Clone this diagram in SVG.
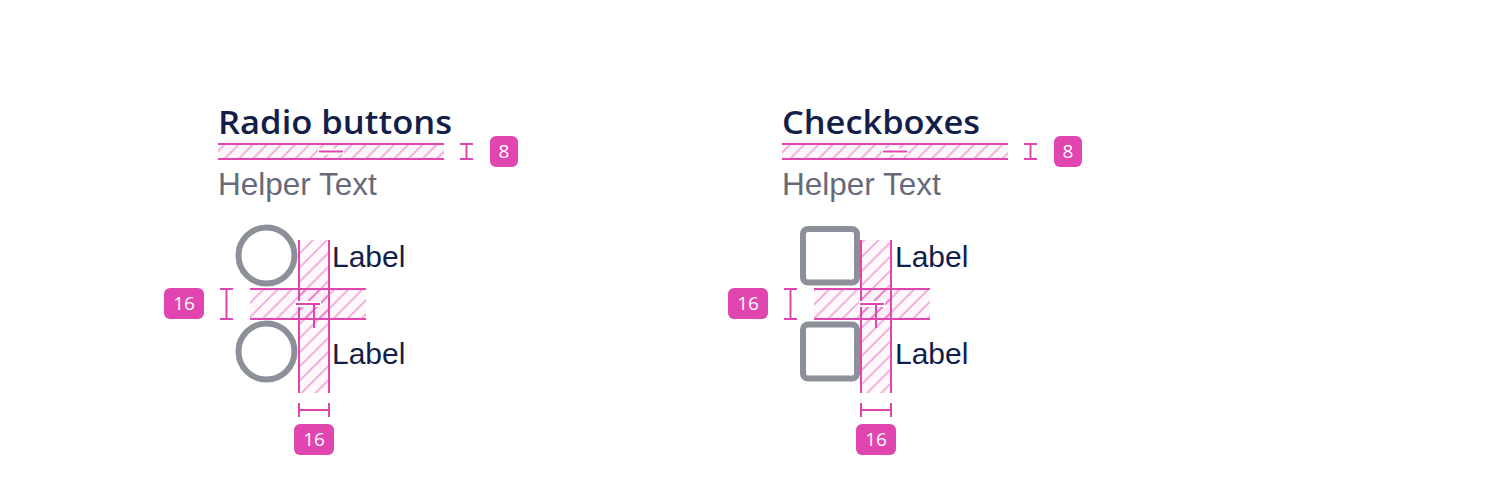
<svg xmlns="http://www.w3.org/2000/svg" width="1500" height="480" viewBox="0 0 1500 480">
<style>
.title{font-family:"Open Sans","Liberation Sans",sans-serif;font-weight:600;font-size:32px;fill:#141e4a}
.helper{font-family:"Liberation Sans",Arial,sans-serif;font-size:31.5px;fill:#676a7b}
.label{font-family:"Liberation Sans",Arial,sans-serif;font-size:30px;fill:#141e4a}
.badge{fill:#e045b0}
.btxt{font-family:"Open Sans","Liberation Sans",sans-serif;font-size:19px;fill:#ffffff;text-anchor:middle}
.pk{stroke:#e045b0;stroke-width:2;fill:none}
.halo{stroke:#ffffff;stroke-width:6;fill:none}
.hatch{fill:url(#hatch)}
.ctrl{fill:none;stroke:#8c9099;stroke-width:6}
</style>
<defs>
<pattern id="hatch" patternUnits="userSpaceOnUse" width="10" height="10" patternTransform="rotate(45)">
<rect width="10" height="10" fill="#e045b0" fill-opacity="0.04"/>
<line x1="1" y1="0" x2="1" y2="10" stroke="#e045b0" stroke-opacity="0.4" stroke-width="2"/>
</pattern>
</defs>

<g id="radio-buttons">
<g id="radio-title">
<text class="title" x="218" y="134" textLength="234" lengthAdjust="spacingAndGlyphs">Radio buttons</text>
<rect class="hatch" x="218" y="144" width="226" height="15"/>
<line class="pk" x1="218" y1="144" x2="444" y2="144"/>
<line class="pk" x1="218" y1="159" x2="444" y2="159"/>
<line class="halo" x1="318" y1="151.5" x2="344" y2="151.5"/>
<line class="pk" x1="319" y1="151.5" x2="343" y2="151.5"/>
<line class="pk" x1="466.5" y1="144" x2="466.5" y2="159"/>
<line class="pk" x1="460" y1="144" x2="473" y2="144"/>
<line class="pk" x1="460" y1="159" x2="473" y2="159"/>
<rect class="badge" x="490" y="136" width="28" height="31" rx="6"/>
<text class="btxt" x="504" y="158">8</text>
<text class="helper" x="218" y="195">Helper Text</text>
</g>
<g id="radio-controls">
<circle class="ctrl" cx="266.5" cy="255.5" r="28"/>
<circle class="ctrl" cx="266.5" cy="351.5" r="28"/>
<text class="label" x="332" y="267">Label</text>
<text class="label" x="332" y="364">Label</text>
</g>
<g id="radio-spacing">
<rect class="hatch" x="299" y="240" width="30" height="153"/>
<rect class="hatch" x="250" y="289" width="116" height="30"/>
<line class="pk" x1="299" y1="240" x2="299" y2="393"/>
<line class="pk" x1="329" y1="240" x2="329" y2="393"/>
<line class="pk" x1="250" y1="289" x2="366" y2="289"/>
<line class="pk" x1="250" y1="319" x2="366" y2="319"/>
<line class="halo" x1="295" y1="304" x2="321" y2="304"/>
<line class="pk" x1="296" y1="304" x2="320" y2="304"/>
<line class="pk" x1="314" y1="304" x2="314" y2="328"/>
<line class="pk" x1="226.5" y1="289" x2="226.5" y2="319"/>
<line class="pk" x1="220" y1="289" x2="233" y2="289"/>
<line class="pk" x1="220" y1="319" x2="233" y2="319"/>
<rect class="badge" x="164" y="288" width="40" height="31" rx="6"/>
<text class="btxt" x="184" y="310">16</text>
<line class="pk" x1="299" y1="410" x2="329" y2="410"/>
<line class="pk" x1="299" y1="403" x2="299" y2="417"/>
<line class="pk" x1="329" y1="403" x2="329" y2="417"/>
<rect class="badge" x="294" y="424" width="40" height="31" rx="6"/>
<text class="btxt" x="314" y="446">16</text>
</g>
</g>

<g id="checkboxes">
<g id="checkbox-title">
<text class="title" x="782" y="134" textLength="198" lengthAdjust="spacingAndGlyphs">Checkboxes</text>
<rect class="hatch" x="782" y="144" width="226" height="15"/>
<line class="pk" x1="782" y1="144" x2="1008" y2="144"/>
<line class="pk" x1="782" y1="159" x2="1008" y2="159"/>
<line class="halo" x1="882" y1="151.5" x2="908" y2="151.5"/>
<line class="pk" x1="883" y1="151.5" x2="907" y2="151.5"/>
<line class="pk" x1="1030.5" y1="144" x2="1030.5" y2="159"/>
<line class="pk" x1="1024" y1="144" x2="1037" y2="144"/>
<line class="pk" x1="1024" y1="159" x2="1037" y2="159"/>
<rect class="badge" x="1054" y="136" width="28" height="31" rx="6"/>
<text class="btxt" x="1068" y="158">8</text>
<text class="helper" x="782" y="195">Helper Text</text>
</g>
<g id="checkbox-controls">
<rect class="ctrl" x="803" y="229" width="54" height="53.5" rx="5"/>
<rect class="ctrl" x="803" y="324.5" width="54" height="54" rx="5"/>
<text class="label" x="895" y="267">Label</text>
<text class="label" x="895" y="364">Label</text>
</g>
<g id="checkbox-spacing">
<rect class="hatch" x="861" y="240" width="30" height="153"/>
<rect class="hatch" x="814" y="289" width="116" height="30"/>
<line class="pk" x1="861" y1="240" x2="861" y2="393"/>
<line class="pk" x1="891" y1="240" x2="891" y2="393"/>
<line class="pk" x1="814" y1="289" x2="930" y2="289"/>
<line class="pk" x1="814" y1="319" x2="930" y2="319"/>
<line class="halo" x1="859" y1="304" x2="885" y2="304"/>
<line class="pk" x1="860" y1="304" x2="884" y2="304"/>
<line class="pk" x1="876" y1="304" x2="876" y2="328"/>
<line class="pk" x1="790.5" y1="289" x2="790.5" y2="319"/>
<line class="pk" x1="784" y1="289" x2="797" y2="289"/>
<line class="pk" x1="784" y1="319" x2="797" y2="319"/>
<rect class="badge" x="728" y="288" width="40" height="31" rx="6"/>
<text class="btxt" x="748" y="310">16</text>
<line class="pk" x1="861" y1="410" x2="891" y2="410"/>
<line class="pk" x1="861" y1="403" x2="861" y2="417"/>
<line class="pk" x1="891" y1="403" x2="891" y2="417"/>
<rect class="badge" x="856" y="424" width="40" height="31" rx="6"/>
<text class="btxt" x="876" y="446">16</text>
</g>
</g>
</svg>
